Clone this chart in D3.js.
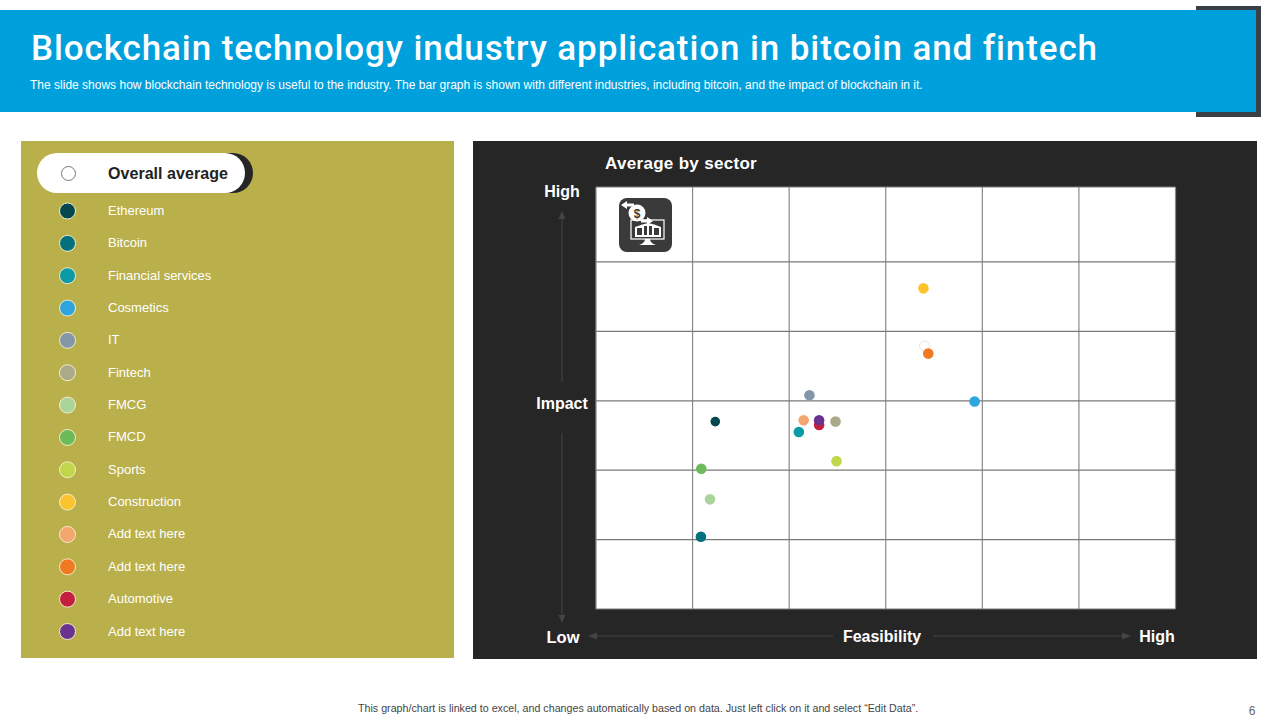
<!DOCTYPE html>
<html><head><meta charset="utf-8">
<script src="https://cdn.jsdelivr.net/npm/d3@7"></script>
<style>html,body{margin:0;padding:0;background:#fff}svg{display:block}text{font-family:"Liberation Sans",Arial,sans-serif}</style>
</head><body><svg id="c" width="1280" height="720"></svg>
<script>
const titleText = "Blockchain technology industry application in bitcoin and fintech";
const subtitleText = "The slide shows how blockchain technology is useful to the industry. The bar graph is shown with different industries, including bitcoin, and the impact of blockchain in it.";
const footerText = "This graph/chart is linked to excel, and changes automatically based on data. Just left click on it and select “Edit Data”.";
const sectors = ["Overall average","Ethereum","Bitcoin","Financial services","Cosmetics","IT","Fintech","FMCG","FMCD","Sports","Construction","Add text here","Add text here","Automotive","Add text here"];
const feasibility = [3.40,1.235,1.086,2.10,3.92,2.21,2.48,1.18,1.09,2.49,3.39,2.15,3.44,2.31,2.31];
const impact = [3.79,2.70,1.04,2.55,2.99,3.08,2.70,1.58,2.02,2.13,4.62,2.72,3.68,2.65,2.72];
const colors = ["#ffffff","#04474f","#04707c","#0b9aa6","#2ea6dd","#8497a8","#aaa98a","#a9d49a","#6cbb5a","#c1d64a","#fcc42c","#f5a66f","#f07a22","#c41f3e","#6b3390"];
const gridX = [0,1,2,3,4,5,6];
const gridY = [0,1,2,3,4,5,6.08];

const svg = d3.select("#c");
const rect=(x,y,w,h,f)=>svg.append("rect").attr("x",x).attr("y",y).attr("width",w).attr("height",h).attr("fill",f);
const label=(t,x,y,s,w,f,a,p)=>(p||svg).append("text").text(t).attr("x",x).attr("y",y).attr("font-size",s).attr("font-weight",w).attr("fill",f).attr("text-anchor",a||"start");

// header
rect(1196,6,65,111,"#3a4046");
rect(0,10,1256,102,"#00a0dc");
label(titleText,31,60,35,500,"#fff").style("font-family","Roboto").attr("letter-spacing",0.9);
label(subtitleText,30,89,12,400,"#fff").attr("letter-spacing",0.005);

// panels
rect(21,141,433,517,"#b9af4b");
rect(473,141,784,518,"#262626");

// legend
const legendY = d3.scalePoint().domain(d3.range(1,sectors.length)).range([210.5,631]);
svg.append("rect").attr("x",200).attr("y",153).attr("width",53).attr("height",40).attr("rx",20).attr("fill","#262626");
svg.append("rect").attr("x",37).attr("y",153).attr("width",208).attr("height",40).attr("rx",20).attr("fill","#fff");
svg.append("circle").attr("cx",68.5).attr("cy",173.5).attr("r",7).attr("fill","#fff").attr("stroke","#777").attr("stroke-width",1);
label(sectors[0],108,179,16,700,"#222").attr("letter-spacing",.05);
sectors.slice(1).forEach((s,i)=>{
  const y=legendY(i+1);
  svg.append("circle").attr("cx",67.5).attr("cy",y+.5).attr("r",8).attr("fill",colors[i+1]).attr("stroke","#f3eecb").attr("stroke-width",1);
  label(s,108,y+4.5,13,400,"#fff");
});

// plot
const x=d3.scaleLinear().domain([0,6]).range([596,1175.5]);
const y=d3.scaleLinear().domain([0,6.08]).range([609,187]);
rect(596,187,580,422,"#fff");
svg.append("g").selectAll("line").data(gridX).join("line")
  .attr("x1",d=>x(d)).attr("x2",d=>x(d)).attr("y1",y(0)).attr("y2",y(6.08))
  .attr("stroke","#8a8a8a").attr("stroke-width",1.2);
svg.append("g").selectAll("line").data(gridY).join("line")
  .attr("x1",x(0)).attr("x2",x(6)).attr("y1",d=>y(d)).attr("y2",d=>y(d))
  .attr("stroke","#7a7a7a").attr("stroke-width",1.2);

// icon
const ic=svg.append("g").attr("transform","translate(619,198)");
ic.append("rect").attr("width",53).attr("height",54).attr("rx",8).attr("fill","#3a3a3a");
ic.append("rect").attr("x",12).attr("y",22).attr("width",33).attr("height",19).attr("fill","none").attr("stroke","#fff").attr("stroke-width",1.2);
ic.append("path").attr("d","M16 39V29Q24 26 29 25Q35 26 42 29V39ZM18 37H23V30H18ZM25 37H28V28H25ZM30 37H33V28H30ZM35 37H40V30H35Z").attr("fill","#fff").attr("fill-rule","evenodd");
ic.append("path").attr("d","M20 47Q26 45 26 41H31Q31 45 37 47Z").attr("fill","#fff");
ic.append("circle").attr("cx",18).attr("cy",15).attr("r",8.5).attr("fill","#fff");
ic.append("path").attr("d","M2 7L8 3V5.5H15V8.5H8V11ZM34 23L28 19V21.5H22V24.5H28V27Z").attr("fill","#fff");
label("$",18,19.5,12,700,"#3a3a3a","middle",ic);

// points
svg.append("g").selectAll("circle").data(sectors.map((s,i)=>i)).join("circle")
  .attr("cx",i=>x(feasibility[i])).attr("cy",i=>y(impact[i])).attr("r",i=>i===0?5:(i===1?4.8:5.3))
  .attr("fill",i=>colors[i]).attr("stroke",i=>i===0?"#f0d8c8":"none").attr("stroke-width",.8);

// axes
const arrowCol="#444";
const ln=(a,b,c,d)=>svg.append("line").attr("x1",a).attr("y1",b).attr("x2",c).attr("y2",d).attr("stroke",arrowCol).attr("stroke-width",1);
ln(562,218,562,382); ln(562,433,562,616); ln(596,636,833,636); ln(933,636,1124,636);
const tri=p=>svg.append("path").attr("d",p).attr("fill",arrowCol);
tri("M562 211L558.5 219H565.5Z"); tri("M562 623L558.5 615H565.5Z"); tri("M588 636L597 632.5V639.5Z"); tri("M1131 636L1122 632.5V639.5Z");
label("Average by sector",605,169,17,700,"#fff").attr("letter-spacing",.31);
label("High",562,197,16,700,"#fff","middle");
label("Impact",562,409,16,700,"#fff","middle");
label("Low",563,643,16.5,700,"#fff","middle");
label("Feasibility",882,642,16,700,"#fff","middle");
label("High",1157,642,16,700,"#fff","middle");

// footer
label(footerText,358,712,10.7,400,"#444");
label("6",1252,715,12,400,"#666","middle");
</script></body></html>
